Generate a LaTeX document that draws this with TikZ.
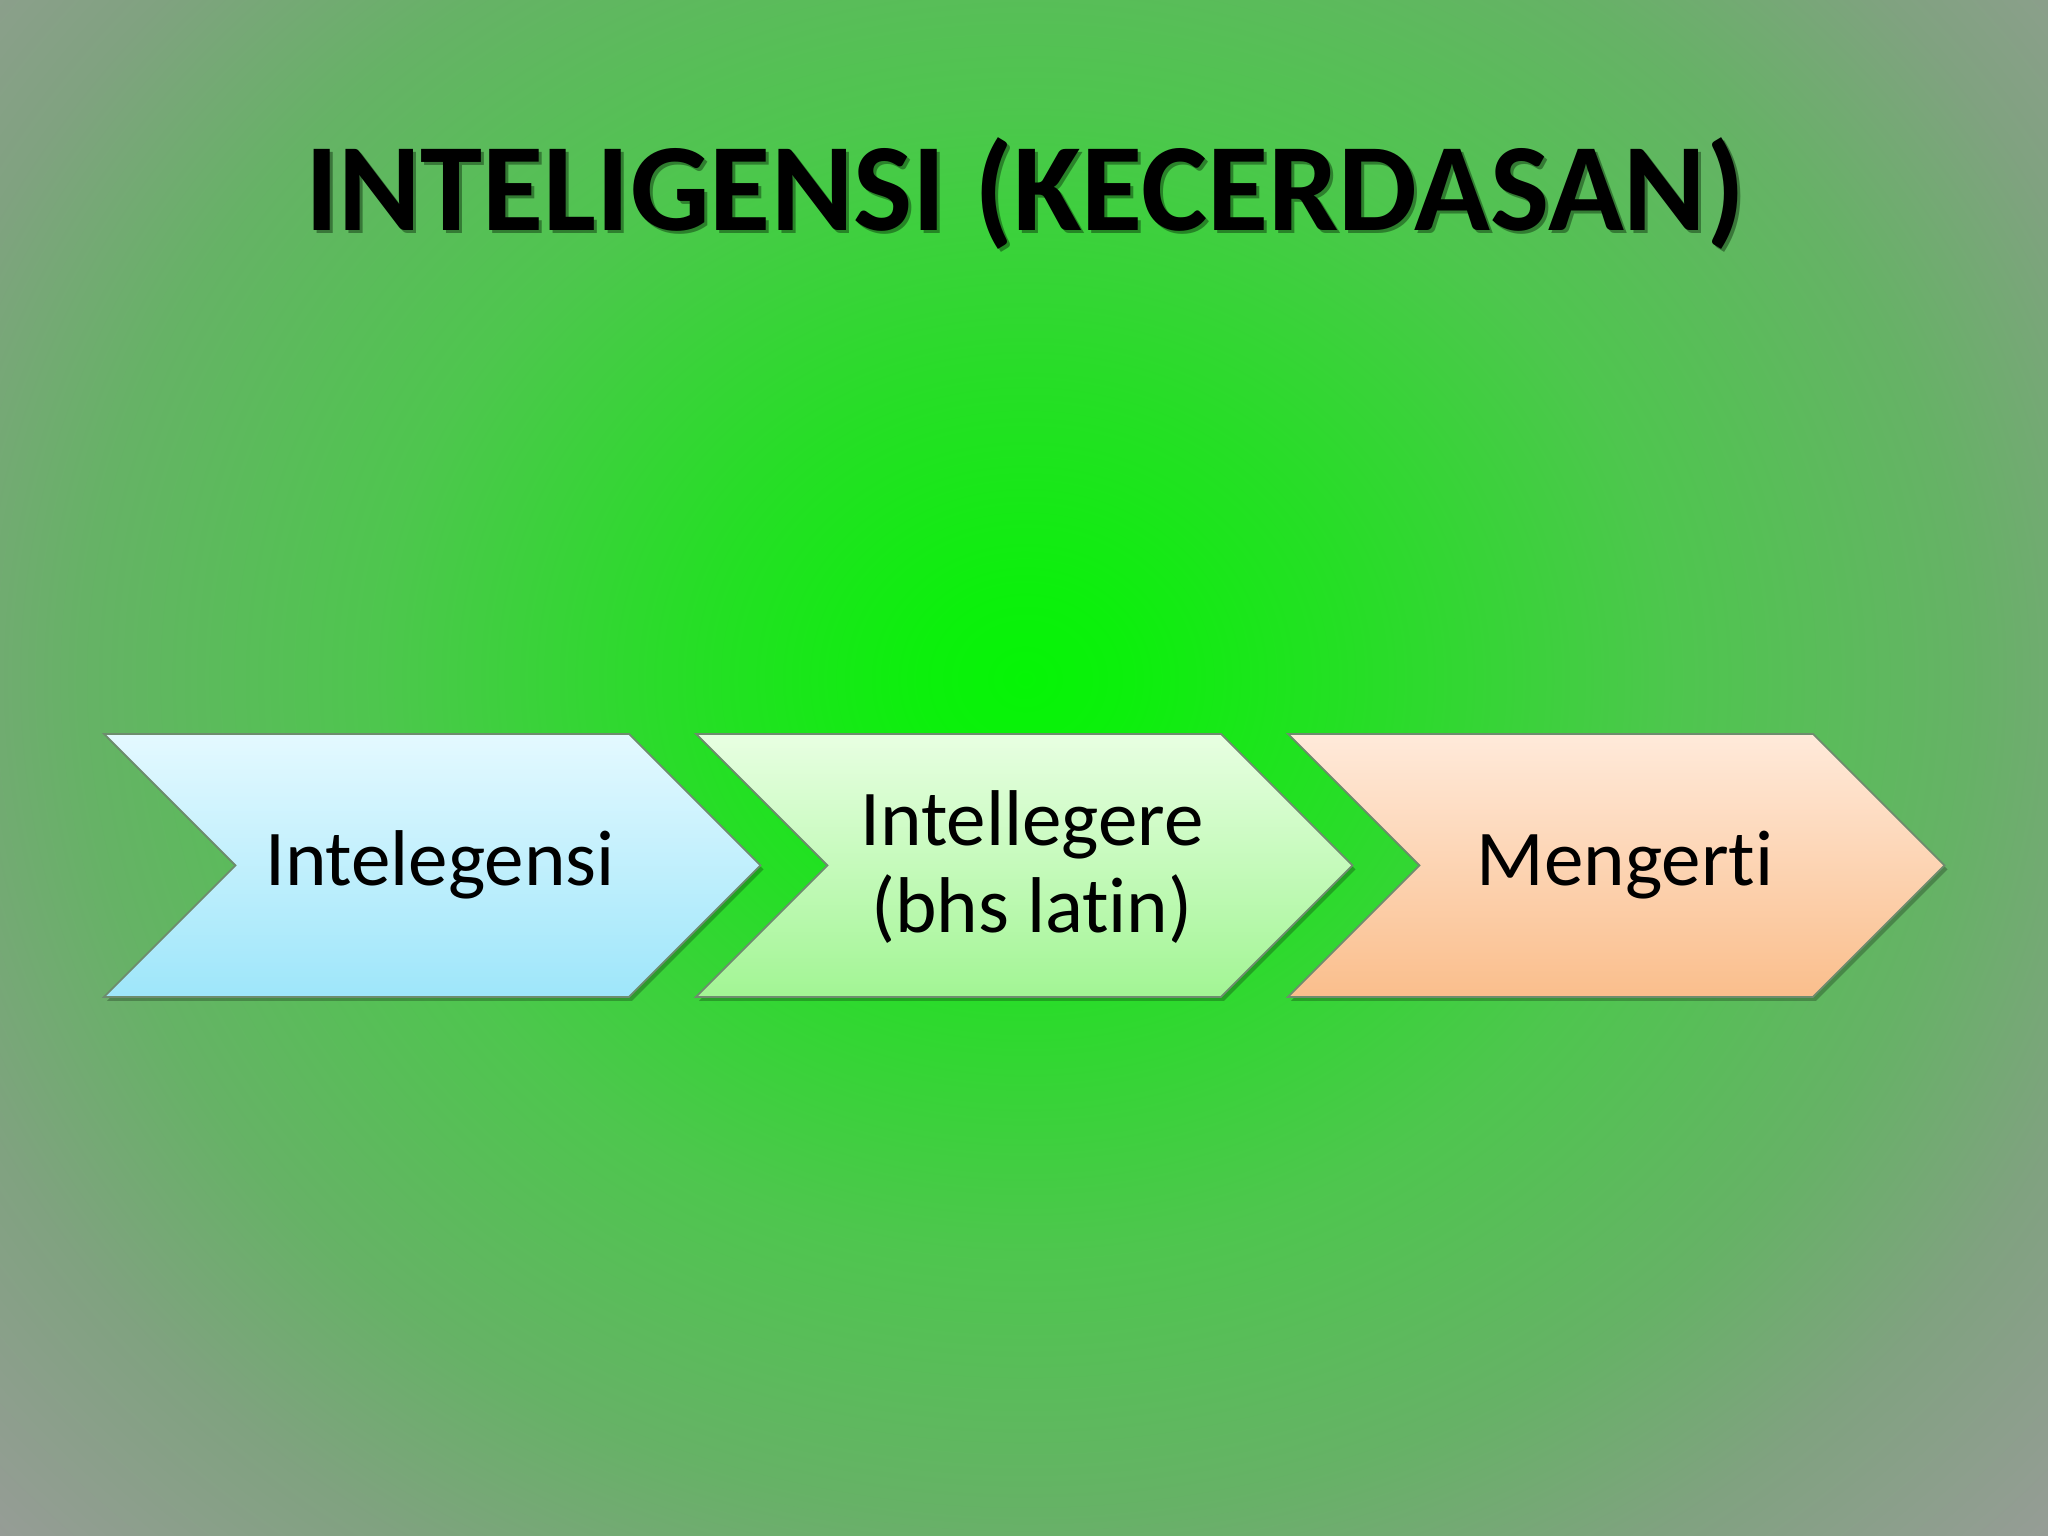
\documentclass[tikz,border=0pt]{standalone}
\usepackage{fontspec}
\setmainfont[Ligatures={NoCommon}]{Carlito}
\definecolor{glowA}{RGB}{5,245,5}
\definecolor{glowB}{RGB}{12,240,12}
\definecolor{glowC}{RGB}{38,222,38}
\definecolor{glowD}{RGB}{78,198,78}
\definecolor{glowE}{RGB}{102,178,102}
\definecolor{glowF}{RGB}{128,162,128}
\definecolor{glowG}{RGB}{155,155,155}
\definecolor{skyT}{RGB}{228,249,255}
\definecolor{skyB}{RGB}{158,230,250}
\definecolor{mintT}{RGB}{232,255,226}
\definecolor{mintB}{RGB}{162,245,148}
\definecolor{peachT}{RGB}{255,234,218}
\definecolor{peachB}{RGB}{250,190,140}
\definecolor{chevline}{RGB}{110,140,110}
\pgfdeclareradialshading{bgglow}{\pgfpoint{0bp}{0bp}}{color(0bp)=(glowA); color(2.5bp)=(glowB); color(8bp)=(glowC); color(15.5bp)=(glowD); color(22.5bp)=(glowE); color(27.5bp)=(glowF); color(35bp)=(glowG); color(50bp)=(glowG)}
\begin{document}
\begin{tikzpicture}
\tikzset{chev/.pic={
	\fill[black,opacity=0.25](0.03,-0.04)--++(5.25,0)--++(1.315,1.315)--++(-1.315,1.315)--++(-5.25,0)--++(1.315,-1.315)--cycle;
	\shade[top color=\ct,bottom color=\cb,draw=chevline,line width=0.5pt](0,0)--++(5.25,0)--++(1.315,1.315)--++(-1.315,1.315)--++(-5.25,0)--++(1.315,-1.315)--cycle;
}}
\tikzset{label/.style={font=\fontsize{22.5}{25}\selectfont,align=center,text=black}}
\useasboundingbox(0,0)rectangle(20.48,15.36);
\begin{scope}
	\clip(0,0)rectangle(20.48,15.36);
	\shade[shading=bgglow](-0.25,-0.70)rectangle(20.75,17.84);
\end{scope}
% title with its shadow
\node[font=\fontsize{35.6}{38}\selectfont\bfseries,text=black!70!green!30!black,opacity=0.4](titleshadow)at(10.28,13.39){INTELIGENSI (KECERDASAN)};
\node[font=\fontsize{35.6}{38}\selectfont\bfseries](title)at(10.25,13.42){INTELIGENSI (KECERDASAN)};
% chevrons
\foreach \x/\ct/\cb in{1.04/skyT/skyB,6.96/mintT/mintB,12.88/peachT/peachB}
	\path(\x,5.39)pic{chev};
\node[label](intel)at(4.40,6.71){Intelegensi};
\node[label](latin)at(10.32,6.69){Intellegere\\(bhs latin)};
\node[label](ngerti)at(16.25,6.71){Mengerti};
\end{tikzpicture}
\end{document}
